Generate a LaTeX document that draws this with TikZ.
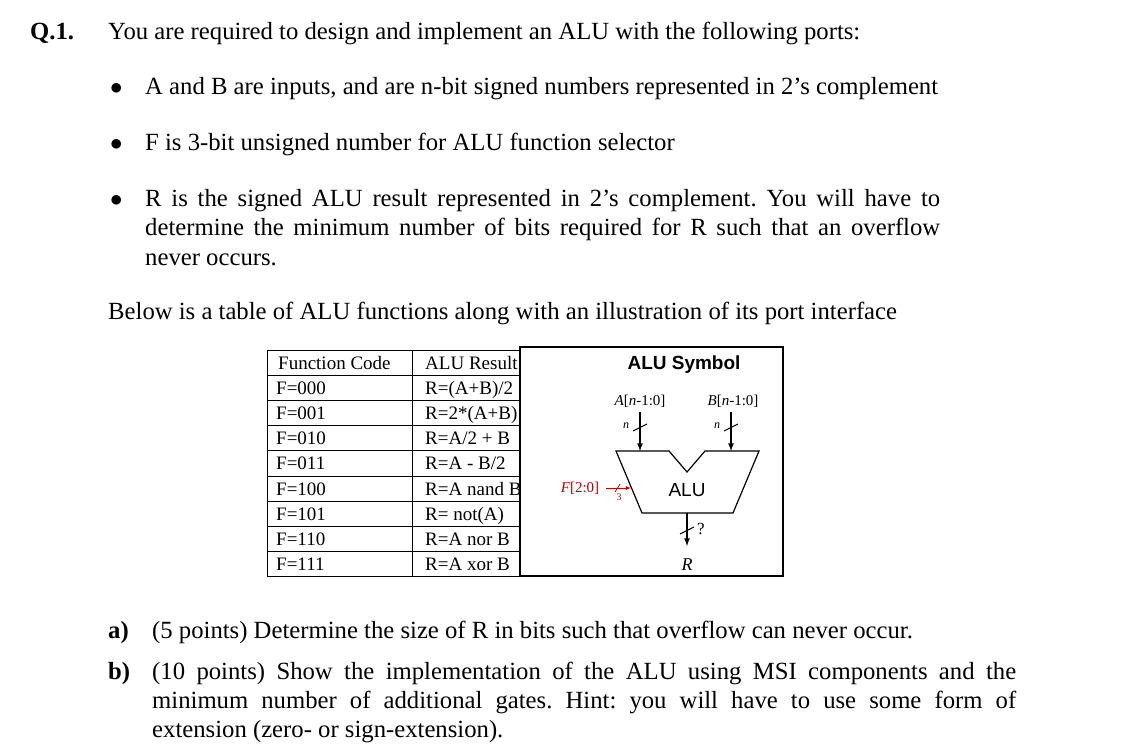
\documentclass[tikz,border=0pt]{standalone}
\usepackage{fontspec}
\setmainfont{Liberation Serif}
\setsansfont{Liberation Sans}
\begin{document}
\frenchspacing
\begin{tikzpicture}[x=1pt,y=-1pt,
  body/.style={anchor=base west,inner sep=0pt,font=\fontsize{24.7}{28}\selectfont},
  tab/.style={anchor=base west,inner sep=0pt,font=\fontsize{19}{21}\selectfont},
  arr/.style={-latex,line width=1.6pt},
  red/.style={color=red!75!black}]
\useasboundingbox (0,0) rectangle (1147,751);
\node[body,font=\bfseries\fontsize{24.7}{28}\selectfont] (q) at (30,40) {Q.1.};
\node[body] (l1) at (108,40) {You are required to design and implement an ALU with the following ports:};
\foreach \y/\n in {95/b1,151/b2,207/b3}{\node[body] (\n) at (110,\y) {$\bullet$};}
\node[body] (l2) at (145,95) {A and B are inputs, and are n-bit signed numbers represented in 2’s complement};
\node[body] (l3) at (145,151) {F is 3-bit unsigned number for ALU function selector};
\node[body] (l4) at (145,207) {\makebox[795pt][s]{R is the signed ALU result represented in 2’s complement. You will have to}};
\node[body] (l5) at (145,236) {\makebox[795pt][s]{determine the minimum number of bits required for R such that an overflow}};
\node[body] (l6) at (145,265) {never occurs.};
\node[body] (l7) at (108,319) {Below is a table of ALU functions along with an illustration of its port interface};
% table
\draw[line width=1pt] (267,350) rectangle (520,576);
\draw[line width=1pt] (412,350) -- (412,576);
\foreach \y in {375,400,425,450,476,501,526,551}{\draw[line width=0.8pt] (267,\y) -- (520,\y);}
\node[tab] (h1) at (278,369) {Function Code};
\node[tab] (h2) at (425,369) {ALU Result};
\foreach \i/\f/\r in {1/F=000/{R=(A+B)/2},2/F=001/{R=2*(A+B)},3/F=010/{R=A/2 + B},4/F=011/{R=A - B/2},5/F=100/{R=A nand B},6/F=101/{R= not(A)},7/F=110/{R=A nor B},8/F=111/{R=A xor B}}{
  \node[tab] (f\i) at (276,369+25.2*\i) {\f};
  \node[tab] (r\i) at (425,369+25.2*\i) {\r};}
% symbol box
\draw[line width=1.5pt] (520,347) rectangle (783,576);
\node[anchor=base,inner sep=0pt,font=\sffamily\bfseries\fontsize{19}{21}\selectfont] (ttl) at (684,369) {ALU Symbol};
\draw[line width=1.2pt] (616,451) -- (669,451) -- (687,472) -- (705,451) -- (759,451) -- (733,513) -- (642,513) -- cycle;
\node[font=\sffamily\fontsize{19}{21}\selectfont] (alu) at (687,490) {ALU};
\coordinate (ai) at (640,412); \coordinate (ao) at (640,451);
\coordinate (bi) at (731,412); \coordinate (bo) at (731,451);
\coordinate (ri) at (687,513); \coordinate (ro) at (687,546);
\draw[arr] (ai) -- (ao); \draw[arr] (bi) -- (bo); \draw[arr] (ri) -- (ro);
\draw[line width=1pt] (633,431) -- (647,424); \draw[line width=1pt] (724,431) -- (738,424); \draw[line width=1pt] (680,534) -- (694,527);
\node[font=\fontsize{15}{16}\selectfont] (la) at (640,401) {\textit{A}[\textit{n}-1:0]};
\node[font=\fontsize{15}{16}\selectfont] (lb) at (733,401) {\textit{B}[\textit{n}-1:0]};
\node[font=\itshape\fontsize{12}{13}\selectfont] (na) at (626,426) {n};
\node[font=\itshape\fontsize{12}{13}\selectfont] (nb) at (717,426) {n};
\node[font=\fontsize{17}{18}\selectfont] (q2) at (701,529) {?};
\node[font=\itshape\fontsize{18}{19}\selectfont] (rl) at (687,565) {R};
\node[red,font=\fontsize{15}{16}\selectfont] (fl) at (580,488) {\textit{F}[2:0]};
\coordinate (fi) at (606,488); \coordinate (fo) at (631,488);
\draw[red,-latex,line width=0.8pt] (fi) -- (fo);
\draw[red,line width=0.8pt] (615,492) -- (620,484);
\node[red,font=\fontsize{10}{11}\selectfont] (f3) at (619,497) {3};
% questions
\node[body,font=\bfseries\fontsize{24.7}{28}\selectfont] (qa) at (108,638) {a)};
\node[body] (ta) at (152,638) {(5 points) Determine the size of R in bits such that overflow can never occur.};
\node[body,font=\bfseries\fontsize{24.7}{28}\selectfont] (qb) at (108,679) {b)};
\node[body] (tb1) at (152,679) {\makebox[864pt][s]{(10 points) Show the implementation of the ALU using MSI components and the}};
\node[body] (tb2) at (152,708) {\makebox[864pt][s]{minimum number of additional gates. Hint: you will have to use some form of}};
\node[body] (tb3) at (152,737) {extension (zero- or sign-extension).};
\end{tikzpicture}
\end{document}
